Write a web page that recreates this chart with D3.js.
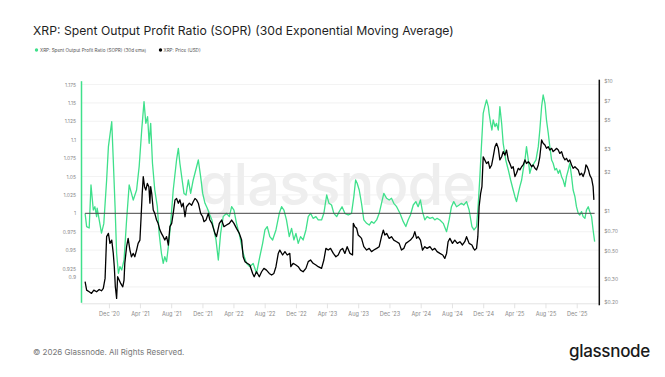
<!DOCTYPE html>
<html><head><meta charset="utf-8">
<script src="https://cdn.jsdelivr.net/npm/d3@7"></script>
<style>
body{margin:0;background:#fff;}
svg{display:block;font-family:Inter,"Open Sans",sans-serif;}
</style>
</head><body>
<svg id="c" width="665" height="377"></svg>
<script>
const title = "XRP: Spent Output Profit Ratio (SOPR) (30d Exponential Moving Average)";
const legendLabels = ["XRP: Spent Output Profit Ratio (SOPR) (30d ema)", "XRP: Price (USD)"];
const footerText = "\u00A9 2026 Glassnode. All Rights Reserved.";
const brand = "glassnode";

const soprDates = ["2020-08-30","2020-09-05","2020-09-15","2020-09-22","2020-10-01","2020-10-07","2020-10-14","2020-10-16","2020-10-24","2020-11-02","2020-11-11","2020-11-22","2020-11-29","2020-12-12","2020-12-18","2020-12-25","2020-12-31","2021-01-07","2021-01-13","2021-01-20","2021-01-29","2021-02-08","2021-02-18","2021-02-27","2021-03-06","2021-03-19","2021-03-29","2021-04-08","2021-04-17","2021-04-24","2021-05-01","2021-05-07","2021-05-13","2021-05-20","2021-05-29","2021-06-08","2021-06-15","2021-06-24","2021-07-01","2021-07-07","2021-07-14","2021-07-21","2021-07-30","2021-08-09","2021-08-22","2021-08-29","2021-09-04","2021-09-11","2021-09-20","2021-09-28","2021-10-07","2021-10-16","2021-10-26","2021-11-05","2021-11-15","2021-11-24","2021-12-02","2021-12-11","2021-12-20","2021-12-30","2022-01-07",
"2022-01-12","2022-01-23","2022-02-01","2022-02-10","2022-02-20","2022-03-05","2022-03-16","2022-03-25","2022-04-03","2022-04-13","2022-04-26","2022-05-09","2022-05-22","2022-06-04","2022-06-17","2022-06-30","2022-07-13","2022-07-24","2022-08-02","2022-08-11","2022-08-21","2022-09-01","2022-09-14","2022-09-27","2022-10-06","2022-10-15","2022-10-25","2022-11-05","2022-11-14","2022-11-23","2022-12-01","2022-12-10","2022-12-19","2022-12-29","2023-01-09","2023-01-18","2023-01-27","2023-02-06","2023-02-17","2023-02-26","2023-03-11","2023-03-20","2023-03-31","2023-04-09","2023-04-19","2023-04-28","2023-05-09","2023-05-19","2023-05-30",
"2023-06-10","2023-06-23","2023-07-06","2023-07-15","2023-07-22","2023-07-28","2023-08-05","2023-08-14","2023-08-23","2023-09-03","2023-09-13","2023-09-22","2023-10-01","2023-10-12","2023-10-22","2023-10-31","2023-11-09","2023-11-20","2023-11-30","2023-12-09","2023-12-18","2023-12-29","2024-01-11","2024-01-24","2024-02-03","2024-02-12","2024-02-21","2024-03-03","2024-03-13","2024-03-22","2024-03-31","2024-04-08","2024-04-17","2024-04-26","2024-05-07","2024-05-17","2024-05-26","2024-06-04","2024-06-15","2024-06-28","2024-07-11","2024-07-21","2024-07-30","2024-08-08","2024-08-19","2024-08-29","2024-09-07","2024-09-16","2024-09-27","2024-10-07","2024-10-18",
"2024-10-26","2024-11-05","2024-11-11","2024-11-18","2024-11-24","2024-12-01","2024-12-07","2024-12-14","2024-12-21","2024-12-24","2024-12-30","2025-01-04","2025-01-09","2025-01-16","2025-01-22","2025-01-29","2025-02-04","2025-02-11","2025-02-17","2025-02-27","2025-03-09","2025-03-18","2025-03-28","2025-04-04","2025-04-10","2025-04-17","2025-04-23","2025-04-30","2025-05-06","2025-05-13","2025-05-19","2025-05-26","2025-06-01","2025-06-08","2025-06-17","2025-06-25","2025-07-04","2025-07-10","2025-07-17","2025-07-23","2025-07-30","2025-08-05","2025-08-12","2025-08-18","2025-08-25","2025-08-31","2025-09-07","2025-09-13","2025-09-20","2025-09-26","2025-10-03","2025-10-09","2025-10-16","2025-10-22","2025-10-29","2025-11-04","2025-11-11","2025-11-17","2025-11-24","2025-11-30","2025-12-07","2025-12-13","2025-12-20","2025-12-26","2026-01-02","2026-01-08","2026-01-15","2026-01-21","2026-01-28","2026-02-03","2026-02-09"];
const soprValues = [1.000,0.982,0.980,1.0385,1.0045,1.009,0.9955,1.007,0.991,0.973,0.986,1.045,1.0906,1.1245,1.0725,1.009,0.9457,0.9185,0.9275,0.923,0.9366,0.991,1.0385,1.027,1.018,1.0317,1.0634,1.1132,1.1517,1.1223,1.1313,1.0951,1.1223,1.068,1.0317,1.009,0.9728,0.9457,0.932,0.9411,0.9343,0.9547,0.9864,1.0317,1.0725,1.0883,1.068,1.0498,1.027,1.0249,1.0453,1.027,1.0453,1.0589,1.0725,1.0498,1.027,1.0136,1.0068,0.9977,0.991,
0.982,0.9638,0.9366,0.9728,0.9955,1.0,0.9955,1.009,1.0045,0.9864,0.9683,0.9457,0.932,0.9275,0.932,0.9185,0.9411,0.9592,0.9774,0.9819,0.9683,0.9638,0.9774,1.0,1.009,1.0045,0.991,0.9683,0.9796,0.9638,0.9728,0.9592,0.9683,0.9638,0.9774,0.9955,1.0,0.9932,0.9955,0.991,0.991,1.0,1.0249,1.0136,1.0113,1.0,0.9955,1.0023,1.009,
1.0,0.9977,1.0,1.0226,1.0453,1.0408,1.0317,1.0136,0.991,0.9864,0.9841,0.9887,0.9864,0.991,1.0,1.0136,1.027,1.0204,1.0181,1.0204,1.0136,1.009,1.0,0.9887,0.982,0.991,0.9977,1.0113,1.0159,1.009,1.0181,1.0023,0.991,0.9955,0.9932,0.9946,0.991,0.9932,0.991,0.9864,0.9751,0.991,1.009,1.0159,1.009,1.0113,1.0136,1.0113,1.0159,1.0045,0.982,
0.9774,0.982,1.009,1.0498,1.0906,1.1359,1.1449,1.154,1.1449,1.1359,1.1223,1.1132,1.1268,1.1178,1.1223,1.1132,1.1449,1.1223,1.0951,1.0725,1.0589,1.0453,1.0317,1.0226,1.0159,1.027,1.0362,1.0453,1.0589,1.0725,1.0906,1.0725,1.0543,1.0634,1.068,1.0725,1.0906,1.1132,1.1449,1.1608,1.1495,1.1268,1.1087,1.0906,1.0725,1.068,1.0589,1.0611,1.0543,1.0589,1.0498,1.0453,1.0362,1.0498,1.0589,1.068,1.0498,1.0317,1.0226,1.009,1.0,0.9977,1.0023,0.9955,0.9932,1.0045,1.009,1.0023,0.9955,0.9774,0.9615];

const priceDates = ["2020-08-30","2020-09-05","2020-09-15","2020-09-24","2020-10-03","2020-10-14","2020-10-24","2020-11-02","2020-11-09","2020-11-16","2020-11-22","2020-11-29","2020-12-05","2020-12-12","2020-12-18","2020-12-22","2020-12-26","2020-12-31","2021-01-04","2021-01-10","2021-01-16","2021-01-24","2021-01-29","2021-02-01","2021-02-08","2021-02-14","2021-02-21","2021-02-27","2021-03-06","2021-03-12","2021-03-19","2021-03-25","2021-04-01","2021-04-05","2021-04-10","2021-04-14","2021-04-19","2021-04-24","2021-04-30","2021-05-06","2021-05-10","2021-05-13","2021-05-17","2021-05-23","2021-05-29","2021-06-05","2021-06-11","2021-06-18","2021-06-24","2021-07-01","2021-07-07","2021-07-14","2021-07-21","2021-07-27","2021-08-03","2021-08-09","2021-08-16","2021-08-22","2021-08-29","2021-09-04","2021-09-11","2021-09-17","2021-09-24","2021-09-30","2021-10-11","2021-10-20","2021-10-26","2021-11-02","2021-11-08","2021-11-15","2021-11-24","2021-12-02","2021-12-07","2021-12-15","2021-12-24","2021-12-30","2022-01-07",
"2022-01-19","2022-01-25","2022-02-05","2022-02-14","2022-02-23","2022-03-05","2022-03-16","2022-03-25","2022-04-03","2022-04-13","2022-04-24","2022-05-03","2022-05-09","2022-05-16","2022-05-25","2022-06-04","2022-06-15","2022-06-21","2022-06-30","2022-07-11","2022-07-20","2022-07-29","2022-08-08","2022-08-19","2022-08-28","2022-09-06","2022-09-14","2022-09-23","2022-09-29","2022-10-10","2022-10-19","2022-10-28","2022-11-07","2022-11-11","2022-11-20","2022-12-01","2022-12-10","2022-12-19","2022-12-29","2023-01-09","2023-01-18","2023-01-27","2023-02-06","2023-02-17","2023-02-26","2023-03-11","2023-03-20","2023-03-28","2023-04-06","2023-04-15","2023-04-26","2023-05-06","2023-05-15","2023-05-24",
"2023-06-01","2023-06-10","2023-06-19","2023-06-30","2023-07-10","2023-07-13","2023-07-19","2023-07-26","2023-08-01","2023-08-08","2023-08-14","2023-08-23","2023-09-03","2023-09-13","2023-09-22","2023-10-01","2023-10-12","2023-10-22","2023-10-31","2023-11-07","2023-11-13","2023-11-20","2023-11-30","2023-12-09","2023-12-18","2023-12-29","2024-01-08","2024-01-17","2024-01-26","2024-02-03","2024-02-12","2024-02-21","2024-03-03","2024-03-09","2024-03-16","2024-03-22","2024-03-31","2024-04-08","2024-04-17","2024-04-26","2024-05-07","2024-05-17","2024-05-26","2024-06-04","2024-06-15","2024-06-26","2024-07-04","2024-07-11","2024-07-17","2024-07-24","2024-08-03","2024-08-12","2024-08-22","2024-09-01","2024-09-11","2024-09-20","2024-09-27","2024-10-07","2024-10-18",
"2024-10-24","2024-10-29","2024-11-05","2024-11-10","2024-11-15","2024-11-21","2024-11-26","2024-12-01","2024-12-07","2024-12-14","2024-12-21","2024-12-27","2025-01-03","2025-01-09","2025-01-16","2025-01-22","2025-01-29","2025-02-04","2025-02-11","2025-02-17","2025-02-24","2025-03-02","2025-03-09","2025-03-15","2025-03-22","2025-03-28","2025-04-04","2025-04-10","2025-04-17","2025-04-23","2025-04-30","2025-05-06","2025-05-13","2025-05-19","2025-05-26","2025-06-01","2025-06-08","2025-06-14","2025-06-21","2025-06-27","2025-07-04","2025-07-10","2025-07-17","2025-07-23","2025-07-30","2025-08-05","2025-08-12","2025-08-18","2025-08-25","2025-08-31","2025-09-07","2025-09-13","2025-09-20","2025-09-26","2025-10-03","2025-10-09","2025-10-16","2025-10-22","2025-10-29","2025-11-04","2025-11-11","2025-11-17","2025-11-24","2025-11-30","2025-12-07","2025-12-13","2025-12-20","2025-12-26","2026-01-02","2026-01-06","2026-01-11","2026-01-16","2026-01-21","2026-01-28","2026-02-03","2026-02-06"];
const priceValues = [0.288,0.248,0.241,0.234,0.248,0.241,0.251,0.245,0.256,0.305,0.637,0.675,0.566,0.600,0.474,0.375,0.263,0.214,0.314,0.296,0.279,0.263,0.296,0.398,0.534,0.618,0.503,0.447,0.474,0.447,0.503,0.566,0.600,0.855,1.37,1.84,1.54,1.45,1.63,1.54,1.15,1.54,1.37,1.02,0.961,0.855,0.806,0.716,0.675,0.637,0.600,0.637,0.550,0.760,0.806,0.961,1.22,1.25,1.15,1.22,1.08,1.15,0.906,1.08,1.15,1.11,1.18,1.25,1.22,1.15,0.961,0.906,0.830,0.855,0.961,0.855,0.806,
0.675,0.637,0.806,0.855,0.760,0.782,0.806,0.855,0.806,0.738,0.675,0.600,0.447,0.410,0.398,0.386,0.333,0.314,0.343,0.314,0.343,0.364,0.353,0.333,0.324,0.333,0.375,0.474,0.503,0.461,0.489,0.461,0.474,0.375,0.398,0.386,0.375,0.353,0.343,0.364,0.410,0.422,0.398,0.386,0.375,0.364,0.422,0.518,0.503,0.518,0.474,0.447,0.461,0.503,
0.518,0.474,0.534,0.474,0.461,0.806,0.760,0.738,0.656,0.637,0.618,0.534,0.503,0.518,0.489,0.503,0.518,0.534,0.637,0.716,0.656,0.675,0.618,0.637,0.600,0.583,0.566,0.503,0.518,0.566,0.583,0.600,0.637,0.696,0.618,0.637,0.600,0.503,0.534,0.518,0.534,0.503,0.518,0.489,0.474,0.461,0.434,0.474,0.583,0.618,0.566,0.600,0.566,0.583,0.550,0.583,0.637,0.566,0.550,
0.518,0.503,0.518,0.637,1.08,1.37,1.54,2.61,2.47,2.32,2.39,2.13,2.26,2.61,3.12,3.31,3.03,2.47,2.61,2.86,2.69,2.94,2.47,2.32,2.13,2.19,1.84,1.95,2.13,2.07,2.19,2.26,2.47,2.32,2.39,2.32,2.19,2.26,2.13,2.07,2.26,2.61,3.51,3.31,3.21,3.03,3.12,2.94,3.03,2.86,2.94,3.03,2.94,2.77,2.86,2.61,2.47,2.54,2.39,2.47,2.26,2.13,2.19,2.13,2.07,1.89,1.95,1.84,2.01,2.26,2.19,2.07,1.89,1.78,1.54,1.22];

const soprTicks = [0.9,0.925,0.95,0.975,1,1.025,1.05,1.075,1.1,1.125,1.15,1.175];
const priceTicks = [0.2,0.3,0.5,0.7,1,2,3,5,7,10];
const priceTickLabels = ["$0.20","$0.30","$0.50","$0.70","$1","$2","$3","$5","$7","$10"];
const xTickDates = ["2020-12-01","2021-04-01","2021-08-01","2021-12-01","2022-04-01","2022-08-01","2022-12-01","2023-04-01","2023-08-01","2023-12-01","2024-04-01","2024-08-01","2024-12-01","2025-04-01","2025-08-01","2025-12-01"];
const xDomain = ["2020-08-14","2026-02-26"];
const soprDomain = [0.8791, 1.1802];
const priceDomain = [0.2, 10];
const refLevel = 1;

const parse = d3.timeParse("%Y-%m-%d");
const L = 81, R = 599, T = 80.7, B = 302.3;
const svg = d3.select("#c");
const x = d3.scaleTime().domain(xDomain.map(parse)).range([L, R]);
const yS = d3.scaleLinear().domain(soprDomain).range([B, T]);
const yP = d3.scaleLog().domain(priceDomain).range([B, T]);

const GREEN = "#3fe08b";

// title
svg.append("text").attr("x", 33).attr("y", 35).attr("font-size", 12.2).attr("fill", "#1f1f1f").text(title);

// legend
const lg = svg.append("g").attr("font-size", 4.6).attr("fill", "#555");
lg.append("circle").attr("cx", 36.5).attr("cy", 50).attr("r", 1.7).attr("fill", GREEN);
lg.append("text").attr("x", 40).attr("y", 51.6).text(legendLabels[0]);
lg.append("circle").attr("cx", 160.5).attr("cy", 50).attr("r", 1.7).attr("fill", "#000");
lg.append("text").attr("x", 163.5).attr("y", 51.6).text(legendLabels[1]);

// grid
svg.append("g").selectAll("line").data(soprTicks).join("line")
  .attr("x1", L).attr("x2", R).attr("y1", d => yS(d)).attr("y2", d => yS(d))
  .attr("stroke", "#efefef").attr("stroke-width", 0.8);

// watermark
svg.append("text").attr("x", 337).attr("y", 205).attr("text-anchor", "middle")
  .attr("font-size", 58).attr("font-weight", 500).attr("fill", "#eeeeee").attr("letter-spacing", -1).text(brand);

// x axis
const xa = svg.append("g").attr("transform", `translate(0,${B + 1})`)
  .call(d3.axisBottom(x).tickValues(xTickDates.map(parse)).tickFormat(d3.timeFormat("%b '%y")).tickSize(5).tickPadding(4).tickSizeOuter(0));
xa.select(".domain").attr("stroke", "#e3e3e3");
xa.selectAll(".tick line").attr("stroke", "#e3e3e3");
xa.selectAll(".tick text").attr("fill", "#8a8a8a").attr("font-size", 5.6).attr("font-family", "Inter,sans-serif");

// left axis
const la = svg.append("g").attr("transform", `translate(${L},0)`)
  .call(d3.axisLeft(yS).tickValues(soprTicks).tickFormat(d => String(d)).tickSize(0).tickPadding(5).tickSizeOuter(0));
la.select(".domain").attr("stroke", GREEN).attr("stroke-width", 1.5);
la.selectAll(".tick text").attr("fill", "#8a8a8a").attr("font-size", 5).attr("font-family", "Inter,sans-serif")
  .attr("dy", d => d === 0.9 ? "-1.6em" : "0.32em");

// right axis
const ra = svg.append("g").attr("transform", `translate(${R + 0.3},0)`)
  .call(d3.axisRight(yP).tickValues(priceTicks).tickFormat((d, i) => priceTickLabels[i]).tickSize(0).tickPadding(5).tickSizeOuter(0));
ra.select(".domain").attr("stroke", "#111").attr("stroke-width", 1.5).attr("d", `M0,${T - 1}V${B + 3}`);
ra.selectAll(".tick text").attr("fill", "#8a8a8a").attr("font-size", 5).attr("font-family", "Inter,sans-serif");

// series
const soprData = soprDates.map((d, i) => ({ d: parse(d), v: soprValues[i] }));
const priceData = priceDates.map((d, i) => ({ d: parse(d), v: priceValues[i] }));

svg.append("path").datum(soprData)
  .attr("d", d3.line().x(p => x(p.d)).y(p => yS(p.v)))
  .attr("fill", "none").attr("stroke", GREEN).attr("stroke-width", 1.3).attr("stroke-linejoin", "round");

// reference line at SOPR = 1
svg.append("line")
  .attr("x1", x(soprData[0].d)).attr("x2", x(soprData[soprData.length - 1].d))
  .attr("y1", yS(refLevel)).attr("y2", yS(refLevel))
  .attr("stroke", "#4a4a4a").attr("stroke-width", 1);

svg.append("path").datum(priceData)
  .attr("d", d3.line().x(p => x(p.d)).y(p => yP(p.v)))
  .attr("fill", "none").attr("stroke", "#000").attr("stroke-width", 1.3).attr("stroke-linejoin", "round");

// footer
svg.append("text").attr("x", 33).attr("y", 355).attr("font-size", 8).attr("fill", "#777").text(footerText);
svg.append("text").attr("x", 650).attr("y", 357).attr("text-anchor", "end").attr("font-size", 17).attr("font-weight", 500).attr("fill", "#1a1a1a").attr("letter-spacing", -0.3).text(brand);
</script>
</body></html>
